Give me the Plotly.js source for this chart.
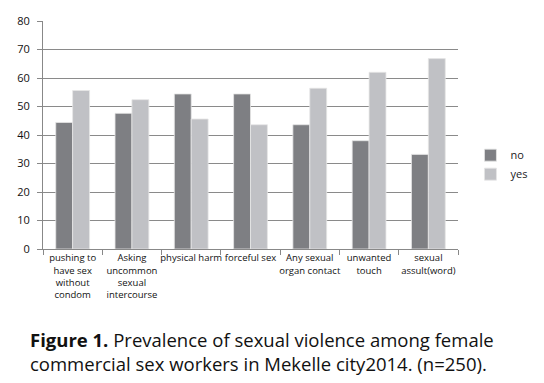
<!DOCTYPE html>
<html><head><meta charset="utf-8">
<script src="https://cdn.plot.ly/plotly-3.0.1.min.js"></script>
<style>html,body{margin:0;padding:0;background:#fff}#c{width:544px;height:383px}</style>
</head><body><div id="c"></div>
<script>
var categories = ["pushing to<br>have sex<br>without<br>condom","Asking<br>uncommon<br>sexual<br>intercourse","physical harm","forceful sex","Any sexual<br>organ contact","unwanted<br>touch","sexual<br>assult(word)"];
var noValues = [44.4, 47.6, 54.4, 54.4, 43.6, 38.0, 33.2];
var yesValues = [55.6, 52.4, 45.6, 43.6, 56.4, 62.0, 66.8];
var seriesNames = ["no", "yes"];
var yTicks = [0,10,20,30,40,50,60,70,80];

var font = "Open Sans, Noto Sans, sans-serif";
var traces = [
  {type:"bar", name:seriesNames[0], x:categories, y:noValues, marker:{color:"#7e7f83", line:{color:"#e6e6e6", width:0.8}}},
  {type:"bar", name:seriesNames[1], x:categories, y:yesValues, marker:{color:"#c0c1c5", line:{color:"#e6e6e6", width:0.8}}}
];
var layout = {
  width:544, height:383,
  margin:{l:43, r:57, t:21, b:134},
  paper_bgcolor:"#fff", plot_bgcolor:"#fff",
  barmode:"group", bargap:0.43, bargroupgap:0,
  showlegend:true,
  legend:{x:1.03, y:0.37, xanchor:"left", yanchor:"middle", font:{family:font, size:11, color:"#222"}, itemwidth:30, tracegroupgap:4},
  xaxis:{type:"category", showgrid:false, showline:true, linecolor:"#888", linewidth:1,
    ticks:"outside", ticklen:5, tickcolor:"#888", tickson:"boundaries",
    tickfont:{family:font, size:9.5, color:"#111"}, tickangle:0, automargin:false},
  yaxis:{range:[0,80], tickvals:yTicks, showgrid:true, gridcolor:"#8a8a8a", gridwidth:1,
    showline:true, linecolor:"#888", ticks:"outside", ticklen:5, tickcolor:"#888", ticklabelstandoff:5,
    tickfont:{family:font, size:11, color:"#111"}, zeroline:false, automargin:false},
  annotations:[
    {xref:"paper", yref:"paper", x:-0.035, y:-0.335, xanchor:"left", yanchor:"top", align:"left",
     showarrow:false, font:{family:font, size:18.5, color:"#111"},
     text:"<b>Figure 1.</b> Prevalence of sexual violence among female<br>commercial sex workers in Mekelle city2014. (n=250)."}
  ]
};
Plotly.newPlot("c", traces, layout, {displayModeBar:false, staticPlot:true});
</script></body></html>
